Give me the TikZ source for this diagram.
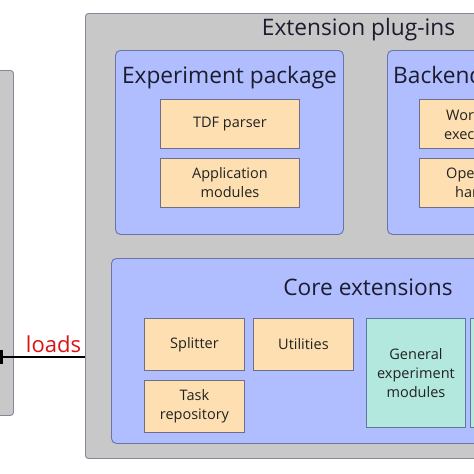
\documentclass[tikz,border=0pt]{standalone}
\usepackage{fontspec}
\setmainfont{Open Sans}
\usetikzlibrary{arrows.meta}
\definecolor{grayc}{HTML}{C8C8C8}
\definecolor{grayd}{HTML}{85889A}
\definecolor{bluec}{HTML}{B0BEFF}
\definecolor{blued}{HTML}{6A74A8}
\definecolor{orangec}{HTML}{FDDFB1}
\definecolor{oranged}{HTML}{6E6E86}
\definecolor{tealc}{HTML}{B3E8DF}
\definecolor{teald}{HTML}{5C78A0}
\definecolor{titc}{HTML}{1C1C2E}
\definecolor{txtc}{HTML}{222222}
\definecolor{loadc}{HTML}{DD1111}
\tikzset{
  frame/.style={draw=#1, line width=0.9pt, inner sep=0pt, anchor=north west},
  grayb/.style={frame=grayd, fill=grayc, rounded corners=3pt},
  blueb/.style={frame=blued, fill=bluec, rounded corners=5pt},
  orb/.style={frame=oranged, fill=orangec, align=center, text=txtc,
    font=\fontsize{14.5}{19}\selectfont},
  tealb/.style={frame=teald, fill=tealc, align=center, text=txtc,
    font=\fontsize{14.5}{19}\selectfont},
  ttl/.style={font=\fontsize{22.7}{27}\selectfont, text=titc, inner sep=0pt, anchor=base},
  sml/.style={font=\fontsize{14.5}{19}\selectfont, text=txtc, inner sep=0pt, anchor=base west}
}
\begin{document}
\begin{tikzpicture}[x=1pt,y=-1pt]
\useasboundingbox (0,0) rectangle (474,474);
\clip (0,0) rectangle (474,474);
\fill[white] (0,0) rectangle (474,474);
% left box
\node[grayb, minimum width=23pt, minimum height=345pt] (left) at (-10,70) {};
% extension plug-ins
\node[grayb, minimum width=500pt, minimum height=445pt] (ext) at (85,13) {};
\node[ttl] (extt) at (358.5,35) {Extension plug-ins};
% experiment package
\node[blueb, minimum width=228pt, minimum height=184pt] (exp) at (115,50) {};
\node[ttl] (expt) at (229.5,83) {Experiment package};
\node[orb, minimum width=139pt, minimum height=49pt] (tdf) at (160,99) {TDF parser};
\node[orb, minimum width=139pt, minimum height=49pt] (app) at (160,158) {Application\\modules};
% backend
\node[blueb, minimum width=200pt, minimum height=184pt] (back) at (387,50) {};
\node[ttl, anchor=base west] (backt) at (393,83) {Backend};
\node[orb, minimum width=150pt, minimum height=49pt] (wor) at (419,99) {};
\node[sml] (wor1) at (446,120) {Workflow};
\node[sml] (wor2) at (444,139) {execution};
\node[orb, minimum width=150pt, minimum height=49pt] (ope) at (419,158) {};
\node[sml] (ope1) at (446,178) {Operation};
\node[sml] (ope2) at (455,197) {handler};
% core extensions
\node[blueb, minimum width=480pt, minimum height=185pt] (core) at (111,258) {};
\node[ttl] (coret) at (368,295) {Core extensions};
\node[orb, minimum width=100pt, minimum height=52pt] (split) at (144,318) {Splitter};
\node[orb, minimum width=100pt, minimum height=52pt] (util) at (253,318) {Utilities};
\node[orb, minimum width=100pt, minimum height=52pt] (task) at (144,380) {Task\\repository};
\node[tealb, minimum width=99pt, minimum height=109pt] (gen) at (366,318) {General\\experiment\\modules};
\node[tealb, minimum width=99pt, minimum height=109pt] (gen2) at (470,318) {};
% loads connector
\coordinate (lstart) at (-2,357);
\draw[line width=1.4pt, {Rectangle[length=5pt,width=14pt]}-] (lstart) -- (ext.west |- lstart);
\node[font=\fontsize{22}{26}\selectfont, text=loadc, inner sep=0pt, anchor=base] (loads) at (53.5,352) {loads};
\end{tikzpicture}
\end{document}
